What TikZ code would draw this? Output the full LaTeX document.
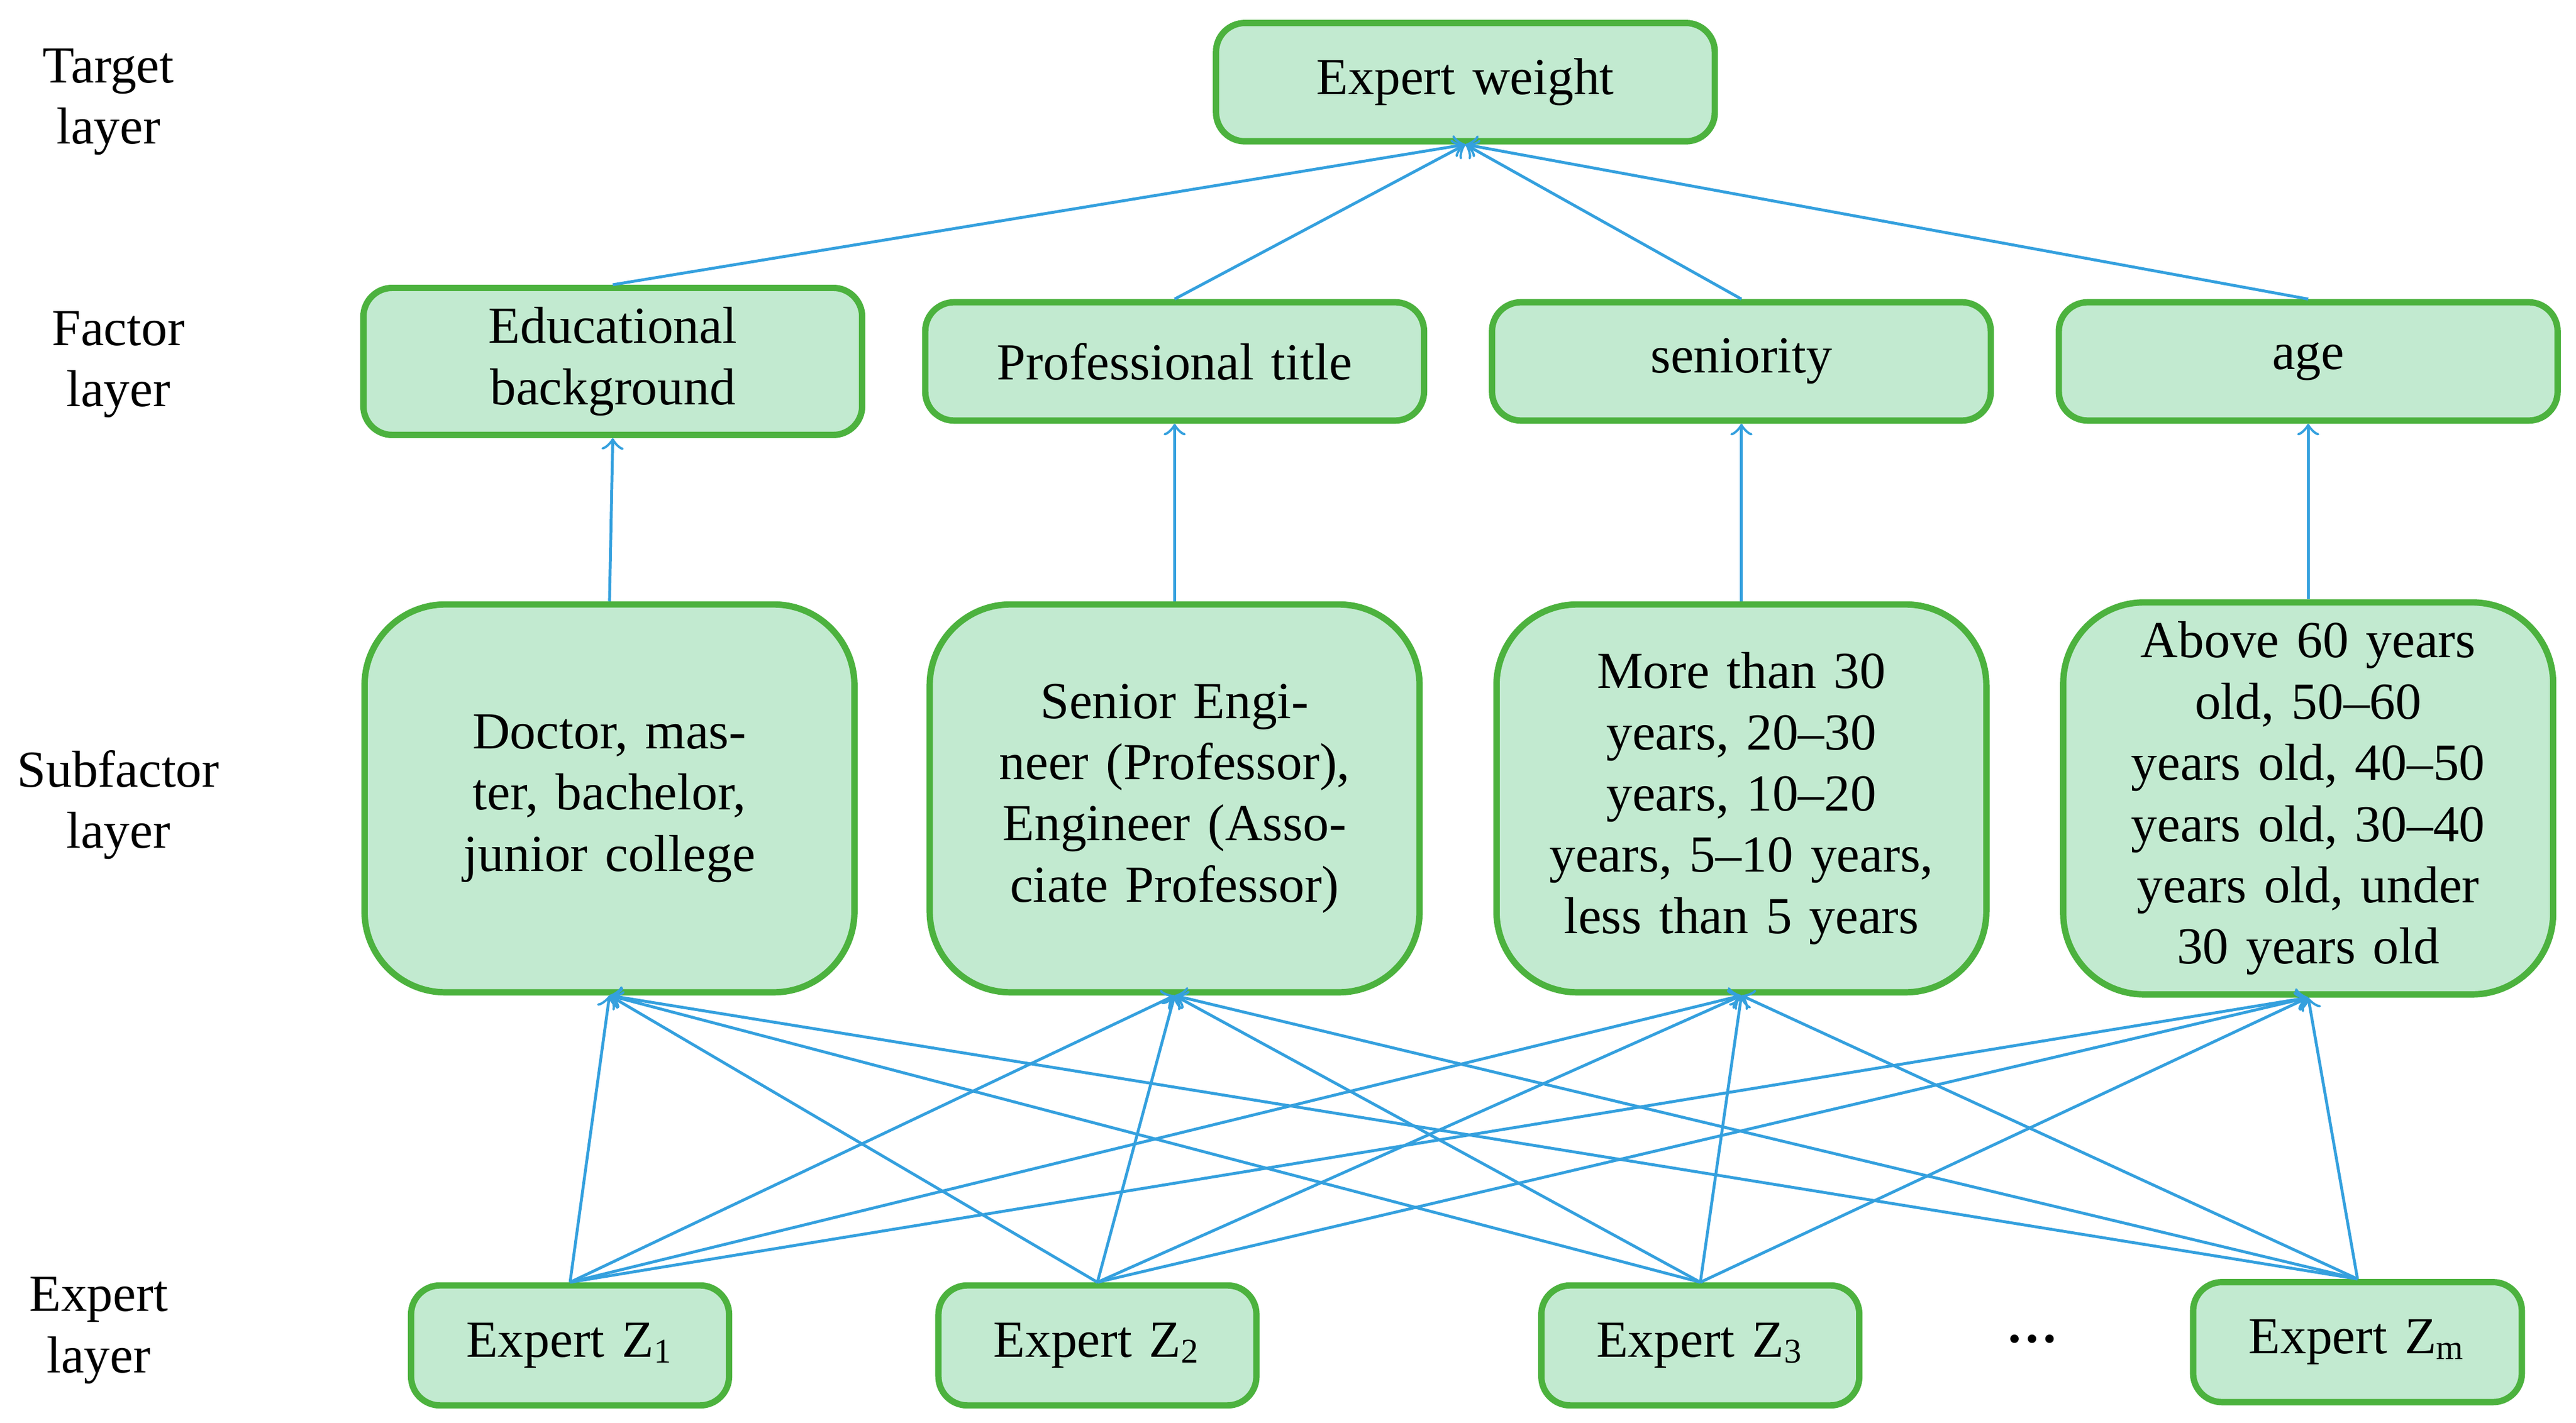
\documentclass[tikz,border=0pt]{standalone}
\usepackage{fontspec}
\setmainfont{Liberation Serif}
\usetikzlibrary{arrows}
\definecolor{boxfill}{RGB}{194,234,208}
\definecolor{boxline}{RGB}{76,178,62}
\definecolor{link}{RGB}{52,160,222}
\begin{document}
\begin{tikzpicture}[x=0.01cm,y=-0.01cm,
  font=\fontsize{9}{10.6}\selectfont,
  box/.style={draw=boxline,line width=1.1pt,fill=boxfill,rounded corners=5pt,
    minimum width=2.98cm,minimum height=0.72cm,align=center,text width=2.8cm},
  sub/.style={box,rounded corners=14pt,minimum height=2.36cm,text width=2.6cm},
  expert/.style={box,minimum width=1.8cm,text width=1.7cm,minimum height=0.73cm},
  layer/.style={align=center},
  link/.style={draw=link,line width=0.5pt,->}]
  \useasboundingbox (0,0) rectangle (1568,866);
  % layer names
  \node[layer] (lt) at (66,62) {Target\\layer};
  \node[layer] (lf) at (72,222) {Factor\\layer};
  \node[layer] (ls) at (72,490) {Subfactor\\layer};
  \node[layer] (le) at (60,810) {Expert\\layer};
  % target
  \node[box] (w) at (892,50) {Expert weight};
  % factors
  \node[box] (f1) at (373,220) {Educational\\background};
  \node[box] (f2) at (715,220) {Professional title};
  \node[box] (f3) at (1060,220) {seniority};
  \node[box] (f4) at (1405,220) {age};
  % subfactors
  \node[sub] (s1) at (371,486) {Doctor, master, bachelor, junior college};
  \node[sub] (s2) at (715,486) {Senior Engineer (Professor), Engineer (Associate Professor)};
  \node[sub] (s3) at (1060,486) {More than 30 years, 20--30 years, 10--20 years, 5--10 years, less than 5 years};
  \node[sub,text width=2.4cm] (s4) at (1405,486) {Above 60 years old, 50--60 years old, 40--50 years old, 30--40 years old, under 30 years old};
  % experts
  \node[expert] (e1) at (347,819) {Expert Z\textsubscript{1}};
  \node[expert] (e2) at (668,819) {Expert Z\textsubscript{2}};
  \node[expert] (e3) at (1035,819) {Expert Z\textsubscript{3}};
  \node[expert,minimum width=2cm] (e4) at (1435,817) {Expert Z\textsubscript{m}};
  \node (dots) at (1237,815) {\textbf{\dots}};
  % connectors
  \foreach \i in {1,...,4} {
    \draw[link] (f\i.north) -- (w.south);
    \draw[link] (s\i.north) -- (f\i.south);
    \foreach \j in {1,...,4}
      \draw[link] (e\i.north) -- (s\j.south);
  }
\end{tikzpicture}
\end{document}
